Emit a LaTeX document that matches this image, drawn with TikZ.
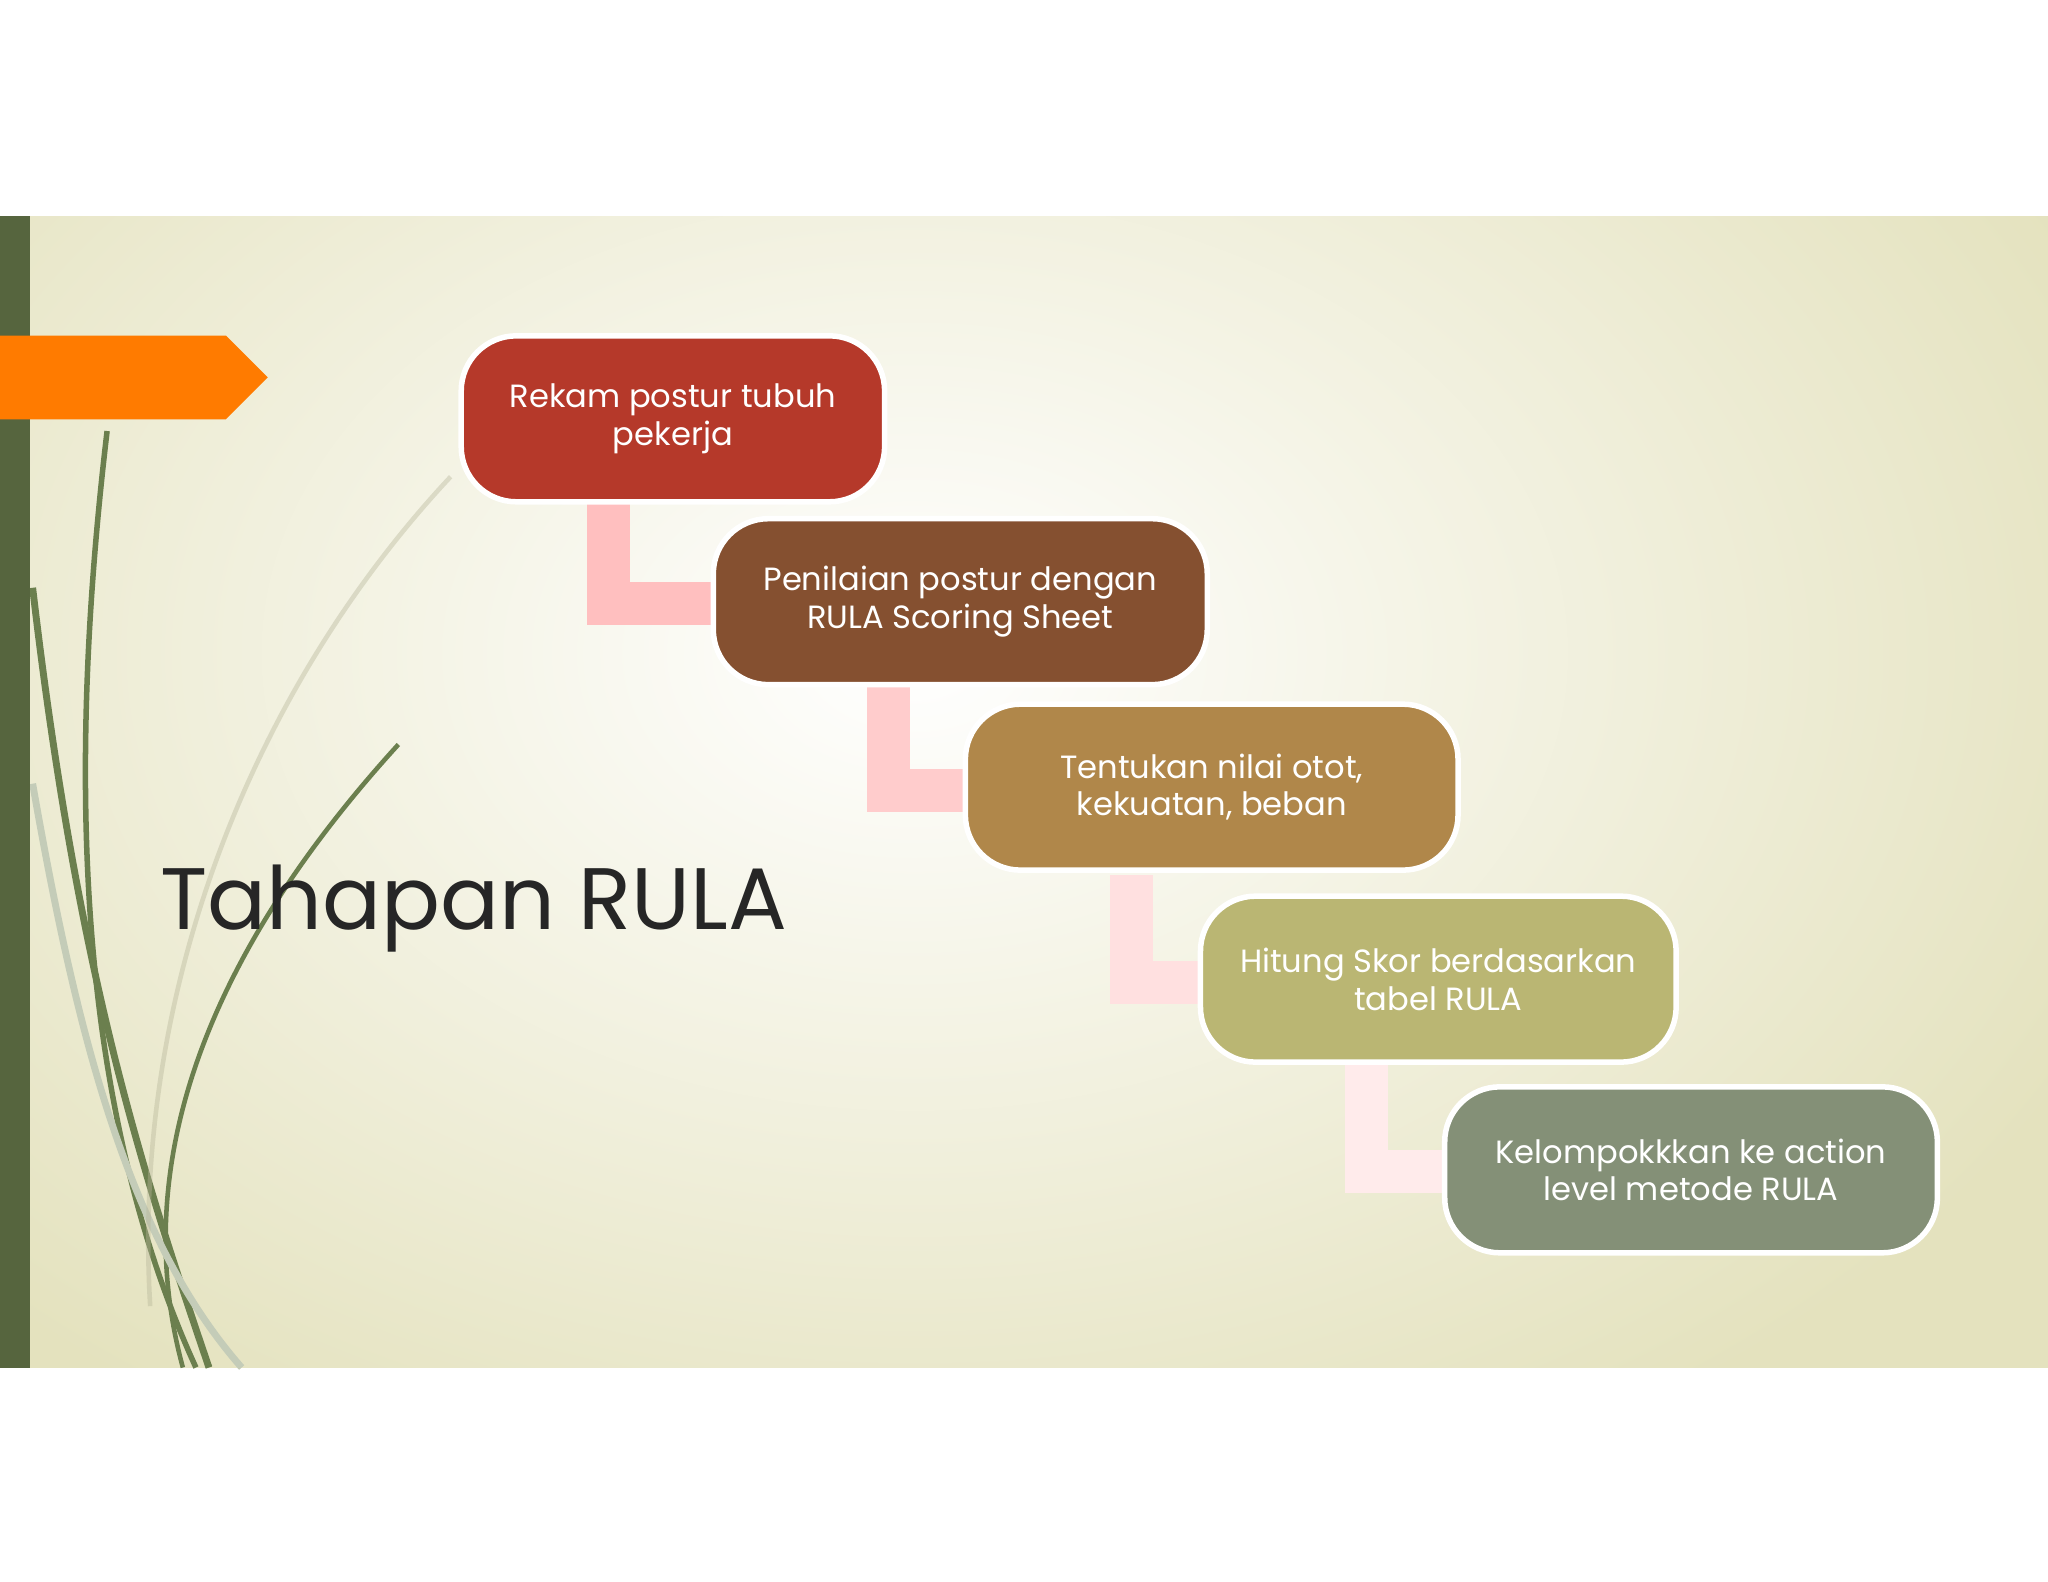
\documentclass[tikz,border=0pt]{standalone}
\usepackage{fontspec}
\setmainfont{Poppins}
\begin{document}
\begin{tikzpicture}[x=0.01cm,y=-0.01cm,
  stepbox/.style={draw=white,line width=1.2pt,rounded corners=12pt,text=white,align=center,font=\fontsize{7}{8.2}\selectfont,minimum width=3.7cm,minimum height=1.27cm,anchor=north west,inner sep=2pt},
  elbow/.style={line width=0.33cm}]
\definecolor{khaki}{HTML}{E4E2BE}
\definecolor{grass}{HTML}{6B7F4E}
\useasboundingbox (0,0) rectangle (1568,1211);
\fill[white] (0,0) rectangle (1568,1211);
\shade[inner color=white,outer color=khaki] (0,165) rectangle (1568,1047);
\fill[white!20!khaki] (0,165) rectangle (1568,1047);
\shade[inner color=white,outer color=khaki,opacity=1] (-300,-200) rectangle (1700,1200);
\fill[white] (0,0) rectangle (1568,165);
\fill[white] (0,1047) rectangle (1568,1211);
% grass
\draw[grass,line width=1.5pt] (25,450) .. controls (60,750) and (110,900) .. (160,1047);
\draw[grass,line width=1.2pt] (82,330) .. controls (50,600) and (60,850) .. (150,1047);
\draw[grass,line width=1pt] (305,570) .. controls (150,740) and (100,900) .. (140,1047);
\draw[grass!40,line width=1.5pt] (25,600) .. controls (60,800) and (100,950) .. (185,1047);
\draw[khaki!80!black,line width=1pt,opacity=.4] (345,365) .. controls (200,520) and (100,750) .. (115,1000);
\fill[grass!80!black] (0,165) rectangle (23,1047);
\fill[orange!85!red!90!yellow] (0,257) -- (173,257) -- (205,289) -- (173,321) -- (0,321) -- cycle;
\node[anchor=base west,font=\fontsize{19}{22}\selectfont,text=black!85,inner sep=0] (title) at (122,712) {Tahapan RULA};
% elbows
\draw[elbow,color=red!25!white] (466,382) |- (544,462);
\draw[elbow,color=red!20!white] (680,522) |- (737,605);
\draw[elbow,color=red!12!white] (866,670) |- (917,752);
\draw[elbow,color=red!8!white] (1046,812) |- (1104,897);
\node[stepbox,fill={rgb,255:red,181;green,57;blue,42},minimum width=3.24cm] (a) at (351,255) {Rekam postur tubuh\\pekerja};
\node[stepbox,fill={rgb,255:red,133;green,80;blue,48},minimum width=3.78cm] (b) at (544,395) {Penilaian postur dengan\\RULA Scoring Sheet};
\node[stepbox,fill={rgb,255:red,176;green,135;blue,74},minimum width=3.77cm] (c) at (737,537) {Tentukan nilai otot,\\kekuatan, beban};
\node[stepbox,fill={rgb,255:red,186;green,182;blue,115},minimum width=3.64cm] (d) at (917,684) {Hitung Skor berdasarkan\\tabel RULA};
\node[stepbox,fill={rgb,255:red,132;green,144;blue,119},minimum width=3.77cm] (e) at (1104,830) {Kelompokkkan ke action\\level metode RULA};
\end{tikzpicture}
\end{document}
